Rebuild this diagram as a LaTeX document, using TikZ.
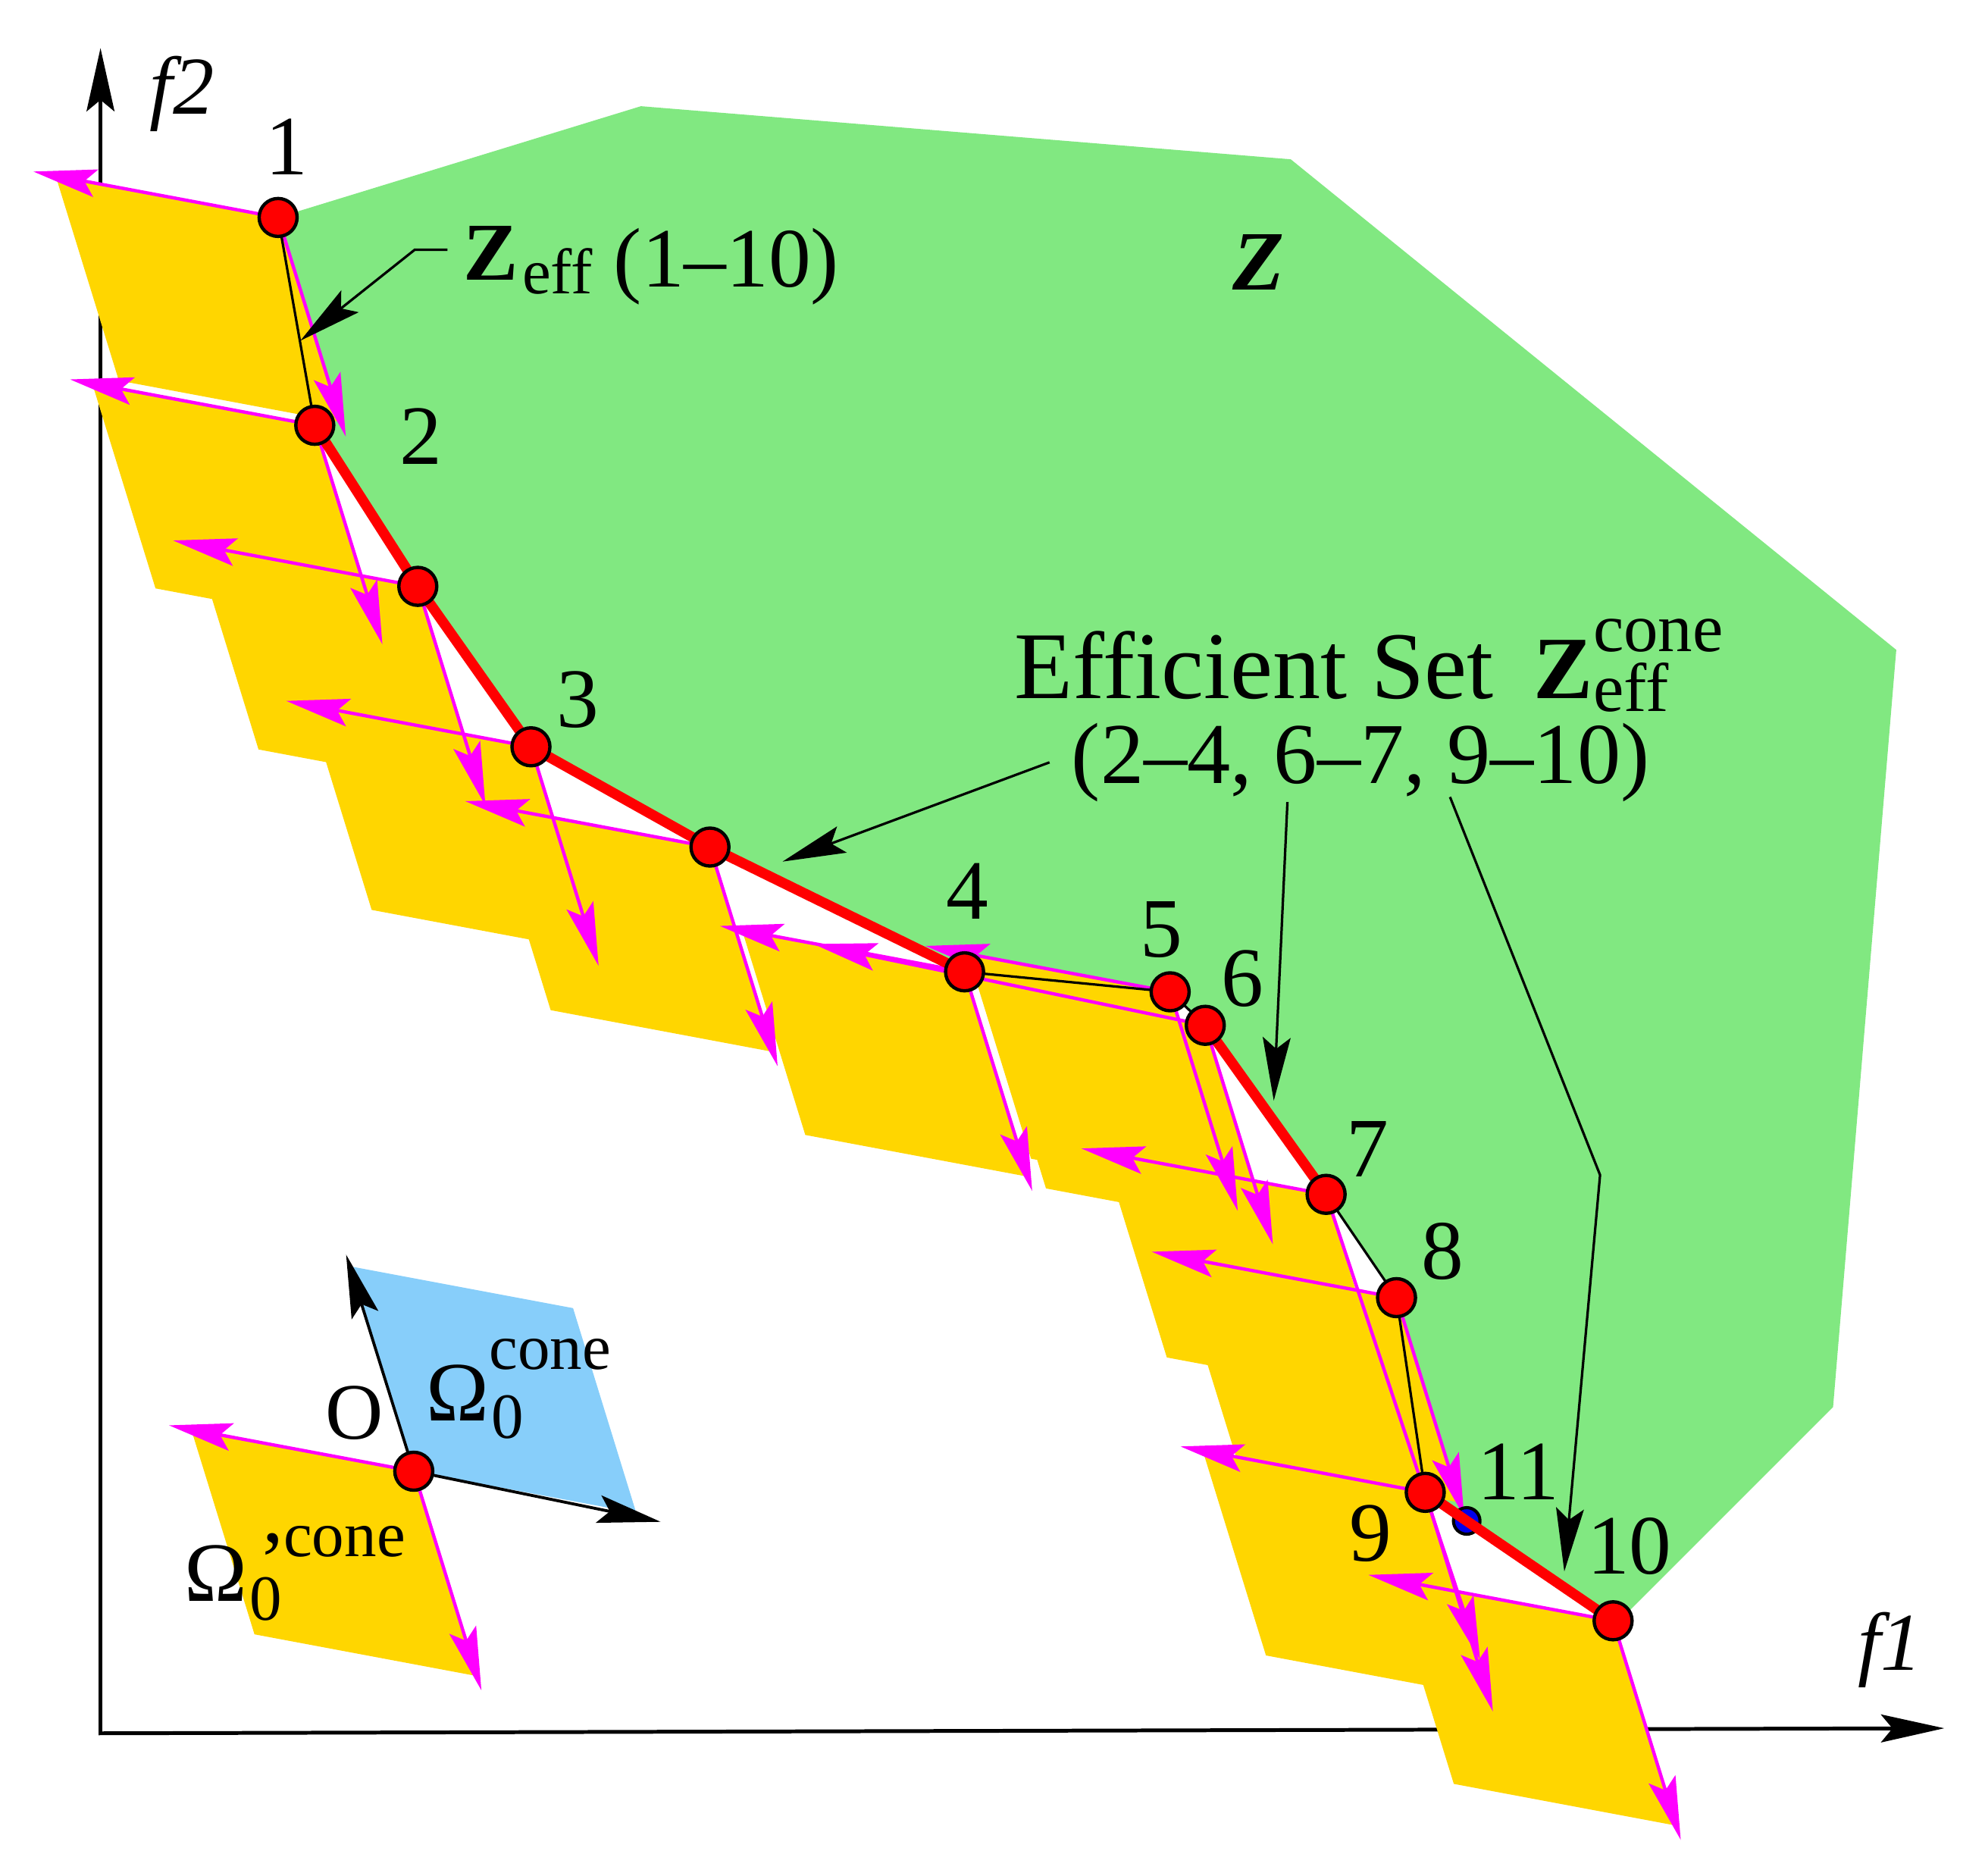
\documentclass[tikz,border=0pt]{standalone}
\usepackage{fontspec}
\setmainfont{Liberation Serif}
\usetikzlibrary{arrows.meta}
\definecolor{zgreen}{RGB}{129,232,129}
\definecolor{cyel}{RGB}{255,214,0}
\definecolor{cblue}{RGB}{135,206,250}
\definecolor{mag}{RGB}{255,0,255}
\definecolor{ptred}{RGB}{255,0,0}
\definecolor{ptblue}{RGB}{0,0,235}
\newcommand{\fsz}[1]{\fontsize{#1}{#1}\selectfont}
\begin{document}
\begin{tikzpicture}[x=0.01cm,y=-0.01cm,
  tipst/.style={-{Stealth[length=0.5cm,width=0.22cm,inset=0.09cm]}},
  marrow/.style={draw=mag,line width=0.75pt,tipst},
  barrow/.style={draw=black,line width=0.55pt,tipst},
  axisarrow/.style={draw=black,line width=0.85pt,tipst},
  thinline/.style={draw=black,line width=0.55pt,line join=round},
  effline/.style={draw=ptred,line width=2.3pt,line join=round},
  redpt/.style={circle,fill=ptred,draw=black,line width=0.75pt,minimum size=0.3cm,inner sep=0pt},
  bluept/.style={circle,fill=ptblue,draw=black,line width=0.7pt,minimum size=0.21cm,inner sep=0pt},
  numlabel/.style={font=\fsz{19},inner sep=0pt,anchor=base},
  txt/.style={inner sep=0pt,anchor=base west},
  conefill/.style={fill=cyel},
]
\useasboundingbox (0,0) rectangle (1570.2,1483.8);

% points
\coordinate (P1) at (220,172);
\coordinate (P2) at (249,336.4);
\coordinate (Pa) at (330.5,463.8);
\coordinate (P3) at (420,590.7);
\coordinate (Pb) at (561.6,670);
\coordinate (P4) at (763,768.7);
\coordinate (P5) at (925.6,784.5);
\coordinate (P6) at (953.4,811);
\coordinate (P7) at (1049,944.7);
\coordinate (P8) at (1104.7,1026.4);
\coordinate (P9) at (1127.4,1180.4);
\coordinate (P11) at (1160.2,1203);
\coordinate (P10) at (1276,1282);
\coordinate (O) at (327.3,1163.7);

% axes
\coordinate (yorig) at (79.5,1372);
\coordinate (ytip) at (79.5,38);
\coordinate (xorig) at (78,1371);
\coordinate (xtip) at (1538,1367);
\draw[axisarrow] (yorig) -- (ytip);
\draw[axisarrow] (xorig) -- (xtip);

% feasible set Z
\fill[zgreen] (P1) -- (507,84) -- (1021,126) -- (1500,514) -- (1450,1113) -- (1289,1274)
  -- (P10) -- (P11) -- (P9) -- (P8) -- (P7) -- (P6) -- (P5) -- (P4) -- (Pb) -- (P3) -- (Pa) -- (P2) -- cycle;

% negative cones
\foreach \p in {P1,P2,Pa,P3,Pb,P4,P6,P7,P8,P9,P10,O}
  \fill[conefill] (\p) -- ++(-176,-33) -- ++(50,162) -- ++(176,33) -- cycle;
\fill[conefill] (P5) -- ++(-160,-30) -- ++(50,162) -- ++(160,30) -- cycle;

% positive cone at O
\fill[cblue] (O) -- ++(-50,-162) -- ++(176,33) -- ++(50,162) -- cycle;
\coordinate (ou) at (273.8,992.4);
\coordinate (or) at (522.6,1203.7);
\draw[barrow,line width=0.65pt] (O) -- (ou);
\draw[barrow,line width=0.65pt] (O) -- (or);

% cone edge arrows
\foreach \p in {P1,P2,Pa,P3,Pb,P4,P5,P7,P8,P9,P10,O}
  \draw[marrow] (\p) -- ++(-193.6,-36.3);
\foreach \p in {P1,P2,Pa,P3,Pb,P4,P5,P6,P8,P9,P10,O}
  \draw[marrow] (\p) -- ++(53.5,173.3);
\coordinate (t6) at (643.6,746.7);
\coordinate (t7) at (1170.8,1313);
\draw[marrow] (P6) -- (t6);
\draw[marrow] (P7) -- (t7);

% boundary of Z (thin)
\draw[thinline] (P1) -- (P2);
\draw[thinline] (P4) -- (P5) -- (P6);
\draw[thinline] (P7) -- (P8) -- (P9);

\node[bluept] (n11) at (P11) {};

% efficient set (thick red)
\draw[effline] (P2) -- (Pa) -- (P3) -- (Pb) -- (P4);
\draw[effline] (P6) -- (P7);
\draw[effline] (P9) -- (P11) -- (P10);

% points
\foreach \p/\n in {P1/n1,P2/n2,Pa/na,P3/n3,Pb/nb,P4/n4,P5/n5,P6/n6,P7/n7,P8/n8,P9/n9,P10/n10,O/no}
  \node[redpt] (\n) at (\p) {};

% point labels
\node[numlabel] (l1) at (227,138) {1};
\node[numlabel] (l2) at (333,367) {2};
\node[numlabel] (l3) at (457,575) {3};
\node[numlabel] (l4) at (765.5,727) {4};
\node[numlabel] (l5) at (919,757) {5};
\node[numlabel] (l6) at (983,795.6) {6};
\node[numlabel] (l7) at (1082,931) {7};
\node[numlabel] (l8) at (1141,1012) {8};
\node[numlabel] (l9) at (1084,1235) {9};
\node[numlabel] (l11) at (1201,1186) {11};
\node[numlabel] (l10) at (1289,1244.7) {10};

% axis labels
\node[inner sep=0pt,anchor=base] (f2) at (144,90) {\fsz{18.5}\itshape f2};
\node[inner sep=0pt,anchor=base] (f1) at (1495,1321) {\fsz{18.5}\itshape f1};

% Z label
\node[inner sep=0pt,anchor=base] (zl) at (995.5,229.4) {\fsz{19}\bfseries\itshape Z};

% Z_eff (1-10)
\node[txt] (zeff) at (366,221.8) {{\fsz{18.5}\bfseries Z}\kern0.03cm\raisebox{-0.104cm}{\fsz{14.5}eff}\kern0.168cm\raisebox{-0.05cm}{\fsz{19}(1–10)}};
\coordinate (za1) at (354,197.6);
\coordinate (za2) at (328,197.6);
\coordinate (za3) at (237.6,269.5);
\draw[barrow] (za1) -- (za2) -- (za3);

% Efficient set label
\node[txt] (effset) at (802,552.5) {{\fsz{21.5}Efficient Set}\kern0.32cm{\fsz{20}\bfseries Z}\rlap{\smash{\raisebox{-0.1cm}{\fsz{15.5}eff}}}\raisebox{0.369cm}{\fsz{15.5}cone}};
\node[inner sep=0pt,anchor=base] (effrange) at (1076.3,619.4) {\fsz{19.5}(2–4, 6–7, 9–10)};
\coordinate (e1s) at (830.2,603);
\coordinate (e1t) at (619,681.5);
\coordinate (e2s) at (1018.4,634.4);
\coordinate (e2t) at (1007.6,870.6);
\coordinate (e3s) at (1147,630.4);
\coordinate (e3b) at (1265.7,929.4);
\coordinate (e3t) at (1237.4,1243);
\draw[barrow] (e1s) -- (e1t);
\draw[barrow] (e2s) -- (e2t);
\draw[barrow] (e3s) -- (e3b) -- (e3t);

% cone labels
\node[inner sep=0pt,anchor=base] (olab) at (280.5,1138.5) {\fsz{18}O};
\node[txt] (omcone) at (336.5,1123.8) {{\fsz{19}Ω}\rlap{\kern0.02cm\raisebox{-0.137cm}{\fsz{14.5}0}}\raisebox{0.41cm}{\fsz{14.5}cone}};
\node[txt] (omncone) at (145.3,1266.8) {{\fsz{19}Ω}\rlap{\kern0.02cm\raisebox{-0.147cm}{\fsz{14.5}0}}\kern0.12cm\raisebox{0.358cm}{\fsz{14.5}\raisebox{0.114cm}{\fsz{19},}cone}};
\end{tikzpicture}
\end{document}
